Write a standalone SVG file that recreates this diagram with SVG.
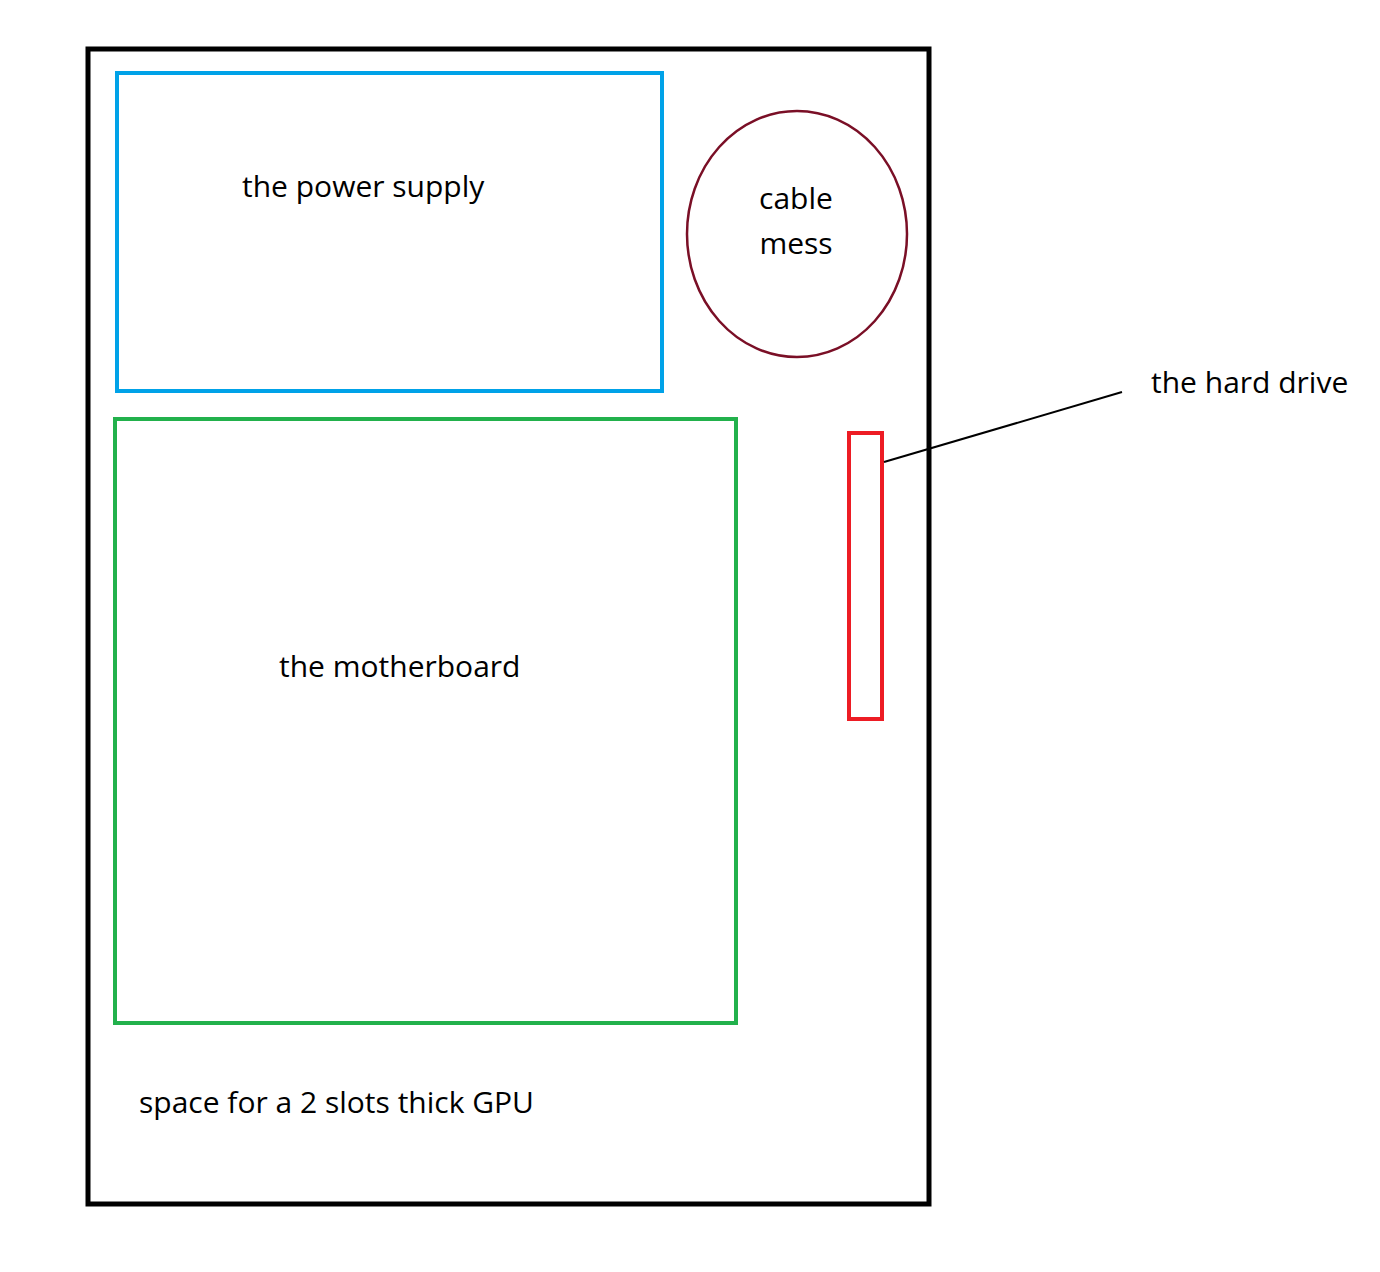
<svg xmlns="http://www.w3.org/2000/svg" width="1380" height="1272" viewBox="0 0 1380 1272">
<style>text{font-family:"Open Sans","DejaVu Sans",sans-serif;font-size:30px;fill:#000}</style>
<rect width="1380" height="1272" fill="#fff"/>
<g id="case"><rect x="88" y="49" width="841" height="1155" fill="none" stroke="#000" stroke-width="5"/></g>
<g id="psu"><rect x="117" y="73" width="545" height="318" fill="none" stroke="#00a2e8" stroke-width="4"/><text x="242" y="197">the power supply</text></g>
<g id="cable"><ellipse cx="797" cy="234" rx="110" ry="123" fill="none" stroke="#7a0f26" stroke-width="2.5"/><text x="796" y="209" text-anchor="middle">cable</text><text x="796" y="254" text-anchor="middle">mess</text></g>
<g id="mb"><rect x="115" y="419" width="621" height="604" fill="none" stroke="#22b14c" stroke-width="4"/><text x="279" y="677">the motherboard</text></g>
<g id="hdd"><rect x="849" y="433" width="33" height="286" fill="none" stroke="#ed1c24" stroke-width="4"/></g>
<g id="hddlabel"><text x="1151" y="393">the hard drive</text></g>
<g id="gpu"><text x="139" y="1113">space for a 2 slots thick GPU</text></g>
<g id="connectors"><line x1="884" y1="462" x2="1122" y2="392" stroke="#000" stroke-width="2"/></g>
</svg>
